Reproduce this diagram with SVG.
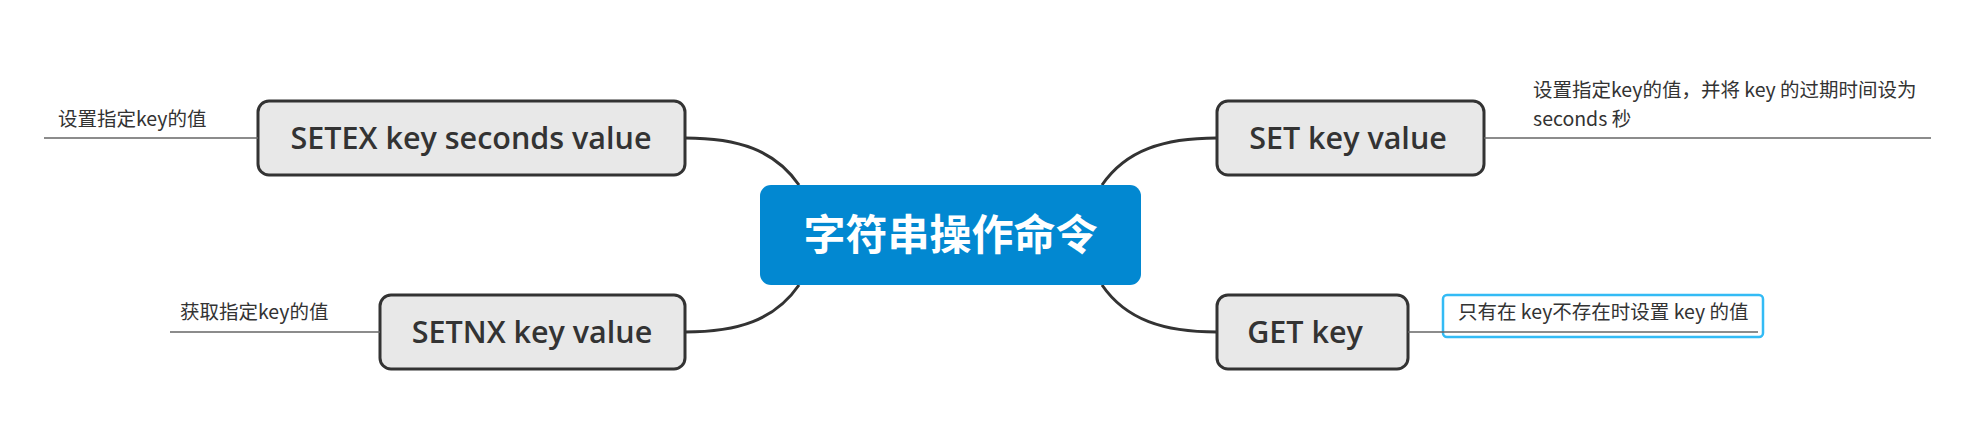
<svg xmlns="http://www.w3.org/2000/svg" width="1979" height="448" viewBox="0 0 1979 448">
<style>
.node rect{fill:#e8e8e8;stroke:#333;stroke-width:3}
.node text{font-family:"Open Sans","Noto Sans",sans-serif;font-size:30.5px;font-weight:600;fill:#333;text-anchor:middle}
.lbl{font-family:"Noto Sans CJK SC",sans-serif;font-size:19.5px;fill:#333}
.conn path{fill:none;stroke:#333;stroke-width:3}
.uline{fill:none;stroke:#666;stroke-width:1.6}
</style>
<rect width="1979" height="448" fill="#fff"/>
<g id="connectors" class="conn">
<path d="M685,138 C738,138 775,150 799,185"/>
<path d="M1217,138 C1164,138 1126,150 1102,185"/>
<path d="M685,332 C738,332 775,320 799,285"/>
<path d="M1217,332 C1164,332 1126,320 1102,285"/>
</g>
<g id="center">
<rect x="760" y="185" width="381" height="100" rx="11" fill="#0288d1"/>
<text x="950.5" y="250" font-family="Noto Sans CJK SC,sans-serif" font-size="42" font-weight="700" fill="#fff" text-anchor="middle">字符串操作命令</text>
</g>
<g id="n-setex" class="node">
<rect x="258" y="101" width="427" height="74" rx="11"/>
<text x="471" y="149">SETEX key seconds value</text>
</g>
<g id="n-set" class="node">
<rect x="1217" y="101" width="267" height="74" rx="11"/>
<text x="1348" y="149">SET key value</text>
</g>
<g id="n-setnx" class="node">
<rect x="380" y="295" width="305" height="74" rx="11"/>
<text x="532" y="343">SETNX key value</text>
</g>
<g id="n-get" class="node">
<rect x="1217" y="295" width="191" height="74" rx="11"/>
<text x="1305" y="343">GET key</text>
</g>
<g id="l-setex">
<line class="uline" x1="44" y1="138" x2="258" y2="138"/>
<text class="lbl" x="58" y="126">设置指定key的值</text>
</g>
<g id="l-setnx">
<line class="uline" x1="170" y1="332" x2="380" y2="332"/>
<text class="lbl" x="180" y="319">获取指定key的值</text>
</g>
<g id="l-set">
<line class="uline" x1="1484" y1="138" x2="1931" y2="138"/>
<text class="lbl" x="1533" y="97">设置指定key的值，并将 key 的过期时间设为</text>
<text class="lbl" x="1533" y="126">seconds 秒</text>
</g>
<g id="l-get">
<rect x="1443" y="295" width="320" height="42" rx="4" fill="none" stroke="#33bbf5" stroke-width="2.5"/>
<line class="uline" x1="1408" y1="332" x2="1758" y2="332"/>
<text class="lbl" x="1458" y="319">只有在 key不存在时设置 key 的值</text>
</g>
</svg>
